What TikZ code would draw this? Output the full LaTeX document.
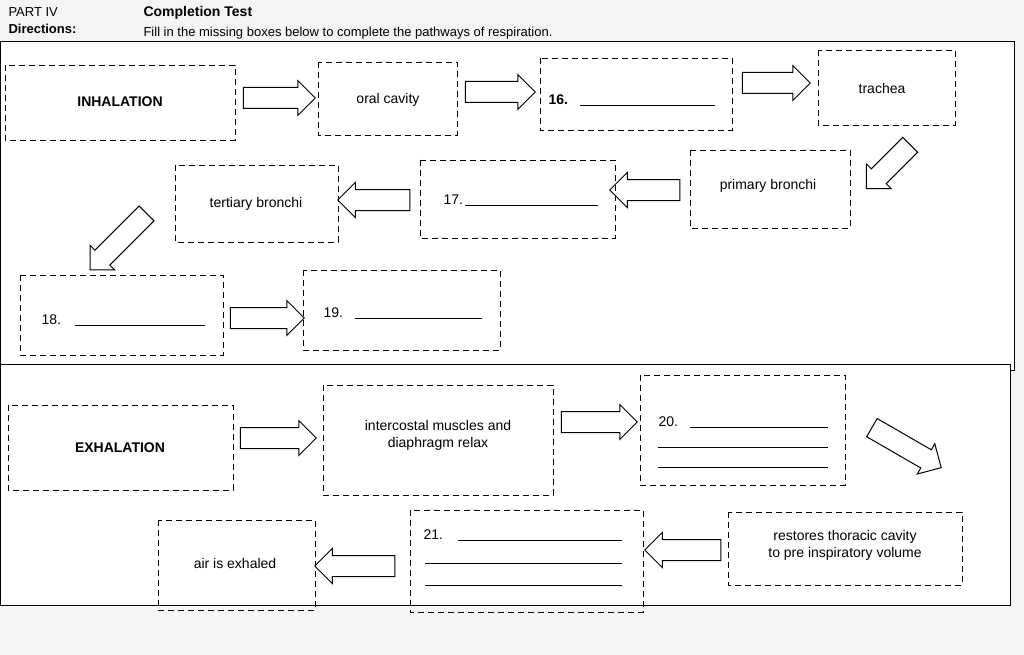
\documentclass[tikz,border=0pt]{standalone}
\usepackage{fontspec}
\setmainfont{Liberation Sans}
\usetikzlibrary{shapes.arrows}
\begin{document}
\begin{tikzpicture}[x=1pt,y=-1pt,
 dbox/.style={draw,dashed,line width=0.9pt,dash pattern=on 6pt off 4pt},
 barrow/.style={draw,line width=1pt,single arrow,single arrow head extend=7pt,single arrow head indent=0pt,inner sep=10pt,minimum height=#1,fill=white},
 txt/.style={font=\fontsize{14}{17}\selectfont,align=center},
 blank/.style={line width=0.6pt}]
\useasboundingbox[fill=gray!8] (0,0) rectangle (1024,655);
\node[anchor=west,font=\fontsize{13}{15}\selectfont] (p4) at (5,12) {PART IV};
\node[anchor=west,font=\fontsize{13}{15}\selectfont\bfseries] (dir) at (5,29) {Directions:};
\node[anchor=west,font=\fontsize{14}{16}\selectfont\bfseries] (ct) at (140,13) {Completion Test};
\node[anchor=west,font=\fontsize{13}{15}\selectfont] (fi) at (140,33) {Fill in the missing boxes below to complete the pathways of respiration.};
% outer boxes
\draw[line width=1pt,fill=white] (0,42) rectangle (1014,370);
\draw[line width=1pt,fill=white] (0,364) rectangle (1010,605);
% upper
\draw[dbox] (5,65) rectangle (235,140); \node[txt,font=\fontsize{14}{17}\selectfont\bfseries] (inh) at (120,102) {INHALATION};
\node[barrow=72pt] (a1) at (274,98) {};
\draw[dbox] (318,62) rectangle (457,135); \node[txt] (oc) at (388,100) {oral cavity};
\node[barrow=70pt] (a2) at (495,92) {};
\draw[dbox] (540,58) rectangle (732,130); \node[txt,anchor=west] (n16) at (545,100) {\textbf{16.}}; \draw[blank] (580,105)--(715,105);
\node[barrow=68pt] (a3) at (771,83) {};
\draw[dbox] (818,50) rectangle (955,125); \node[txt] (tr) at (882,88) {trachea};
\node[barrow=62pt,rotate=-135] (a4) at (892,163) {};
\draw[dbox] (690,150) rectangle (850,228); \node[txt] (pb) at (768,186) {primary bronchi};
\node[barrow=70pt,rotate=180] (a5) at (650,190) {};
\draw[dbox] (420,160) rectangle (615,238); \node[txt,anchor=west] (n17) at (440,200) {17.}; \draw[blank] (465,205)--(598,205);
\node[barrow=72pt,rotate=180] (a6) at (379,200) {};
\draw[dbox] (175,165) rectangle (338,242); \node[txt] (tb) at (256,204) {tertiary bronchi};
\node[barrow=80pt,rotate=-135] (a7) at (122,238) {};
\draw[dbox] (20,275) rectangle (223,355); \node[txt,anchor=west] (n18) at (38,320) {18.}; \draw[blank] (75,325)--(205,325);
\node[barrow=74pt] (a8) at (262,318) {};
\draw[dbox] (303,270) rectangle (500,350); \node[txt,anchor=west] (n19) at (320,313) {19.}; \draw[blank] (355,318)--(482,318);
% lower
\draw[dbox] (8,405) rectangle (233,490); \node[txt,font=\fontsize{14}{17}\selectfont\bfseries] (exh) at (120,448) {EXHALATION};
\node[barrow=76pt] (b1) at (273,438) {};
\draw[dbox] (323,385) rectangle (553,495); \node[txt] (ic) at (438,435) {intercostal muscles and\\diaphragm relax};
\node[barrow=76pt] (b2) at (594,422) {};
\draw[dbox] (640,375) rectangle (845,485); \node[txt,anchor=west] (n20) at (655,422) {20.}; \draw[blank] (690,427)--(828,427); \draw[blank] (658,447)--(828,447); \draw[blank] (658,467)--(828,467);
\node[barrow=80pt,rotate=-30] (b3) at (902,445) {};
\draw[dbox] (728,512) rectangle (962,585); \node[txt] (rt) at (845,545) {restores thoracic cavity\\to pre inspiratory volume};
\node[barrow=76pt,rotate=180] (b4) at (688,550) {};
\draw[dbox] (410,510) rectangle (643,612); \node[txt,anchor=west] (n21) at (420,535) {21.}; \draw[blank] (458,540)--(622,540); \draw[blank] (425,563)--(622,563); \draw[blank] (425,585)--(622,585);
\node[barrow=80pt,rotate=180] (b5) at (360,566) {};
\draw[dbox] (158,520) rectangle (315,610); \node[txt] (ae) at (235,563) {air is exhaled};
\end{tikzpicture}
\end{document}
